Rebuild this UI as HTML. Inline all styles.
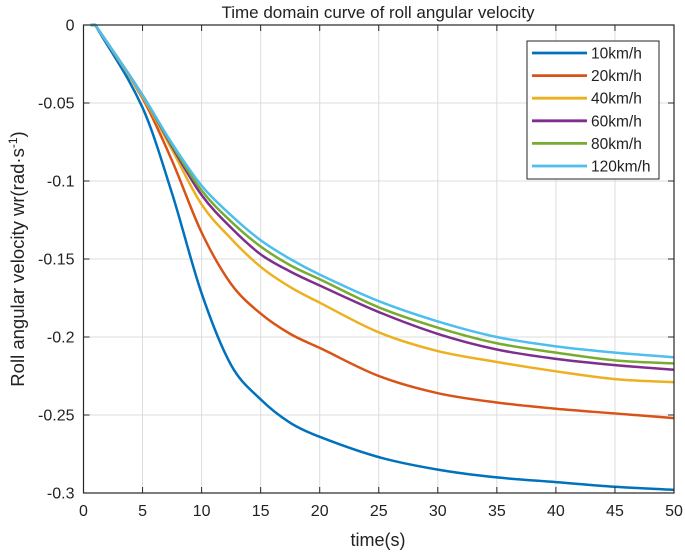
<!DOCTYPE html>
<html><head><meta charset="utf-8"><style>
body{margin:0;background:#fff}
svg text{font-family:"Liberation Sans",sans-serif;fill:#222}
</style></head><body>
<svg id="chart" width="685" height="552" viewBox="0 0 685 552" xmlns="http://www.w3.org/2000/svg">
<g id="grid"></g>
<g id="series"></g>
<g id="axes"></g>
<text x="378" y="18" font-size="17" text-anchor="middle">Time domain curve of roll angular velocity</text>
<text x="378" y="546" font-size="18" text-anchor="middle">time(s)</text>
<text transform="translate(24,259) rotate(-90)" font-size="18.5" text-anchor="middle">Roll angular velocity wr(rad·s<tspan dy="-7" font-size="12">-1</tspan><tspan dy="7">)</tspan></text>
<g id="legend"></g>
</svg>
<script>
const times=[0.6,1,5,7.5,10,12.5,15,17.5,20,25,30,35,40,45,50];
const v10=[0,0,-0.053,-0.108,-0.172,-0.218,-0.240,-0.255,-0.264,-0.277,-0.285,-0.29,-0.293,-0.296,-0.298];
const v20=[0,0,-0.047,-0.087,-0.133,-0.166,-0.185,-0.198,-0.207,-0.225,-0.236,-0.242,-0.246,-0.249,-0.252];
const v40=[0,0,-0.046,-0.080,-0.115,-0.137,-0.155,-0.168,-0.178,-0.197,-0.209,-0.216,-0.222,-0.227,-0.229];
const v60=[0,0,-0.045,-0.078,-0.109,-0.130,-0.147,-0.158,-0.167,-0.184,-0.198,-0.208,-0.214,-0.218,-0.221];
const v80=[0,0,-0.045,-0.077,-0.106,-0.126,-0.142,-0.154,-0.163,-0.181,-0.194,-0.204,-0.210,-0.215,-0.217];
const v120=[0,0,-0.045,-0.076,-0.103,-0.122,-0.138,-0.150,-0.160,-0.177,-0.190,-0.200,-0.206,-0.210,-0.213];
const seriesNames=["10km/h","20km/h","40km/h","60km/h","80km/h","120km/h"];
const xTicks=[0,5,10,15,20,25,30,35,40,45,50];
const yTicks=[0,-0.05,-0.1,-0.15,-0.2,-0.25,-0.3];
const yTickLabels=["0","-0.05","-0.1","-0.15","-0.2","-0.25","-0.3"];
const colors=["#0072BD","#D95319","#EDB120","#7E2F8E","#77AC30","#4DBEEE"];
const X0=83.5,X1=674,Y0=25,Y1=493;
const xs=t=>X0+(t/50)*(X1-X0);
const ys=v=>Y0+(v/-0.3)*(Y1-Y0);
const NS="http://www.w3.org/2000/svg";
function mk(tag,attrs,parent){const e=document.createElementNS(NS,tag);for(const k in attrs)e.setAttribute(k,attrs[k]);parent.appendChild(e);return e;}
const grid=document.getElementById('grid'),axes=document.getElementById('axes'),ser=document.getElementById('series'),leg=document.getElementById('legend');
mk('rect',{x:X0,y:Y0,width:X1-X0,height:Y1-Y0,fill:'#fff'},grid);
xTicks.forEach(t=>{
  const g=mk('line',{x1:xs(t),x2:xs(t),y1:Y0,y2:Y1,stroke:'#dcdcdc','stroke-width':1},grid);
  
  
  mk('line',{x1:xs(t),x2:xs(t),y1:Y1,y2:Y1-6,stroke:'#262626'},axes);
  mk('line',{x1:xs(t),x2:xs(t),y1:Y0,y2:Y0+6,stroke:'#262626'},axes);
  const tx=mk('text',{x:xs(t),y:Y1+23,'font-size':16,'text-anchor':'middle'},axes);
  tx.textContent=t;
  
  
});
yTicks.forEach((v,i)=>{
  const g=mk('line',{x1:X0,x2:X1,y1:ys(v),y2:ys(v),stroke:'#dcdcdc','stroke-width':1},grid);
  
  
  mk('line',{x1:X0,x2:X0+6,y1:ys(v),y2:ys(v),stroke:'#262626'},axes);
  mk('line',{x1:X1,x2:X1-6,y1:ys(v),y2:ys(v),stroke:'#262626'},axes);
  const tx=mk('text',{x:X0-9,y:ys(v)+5.5,'font-size':16,'text-anchor':'end'},axes);
  tx.textContent=yTickLabels[i];
  
  
});
mk('rect',{x:X0,y:Y0,width:X1-X0,height:Y1-Y0,fill:'none',stroke:'#262626','stroke-width':1.2},axes);
function path(vals){
  const p=times.map((t,i)=>[xs(t),ys(vals[i])]);
  const n=p.length;
  // tangents (per unit x), Catmull-Rom style with non-uniform spacing
  const m=[];
  for(let i=0;i<n;i++){
    if(i===0)m.push(0);
    else if(i===n-1)m.push((p[i][1]-p[i-1][1])/(p[i][0]-p[i-1][0]));
    else if(i===1)m.push((p[2][1]-p[1][1])/(p[2][0]-p[1][0]));
    else m.push((p[i+1][1]-p[i-1][1])/(p[i+1][0]-p[i-1][0]));
  }
  let s='M'+p[0][0]+','+p[0][1];
  for(let i=0;i<n-1;i++){
    const h=(p[i+1][0]-p[i][0])/3;
    if(i===0){s+=' L'+p[1][0]+','+p[1][1];continue;}
    s+=' C'+(p[i][0]+h)+','+(p[i][1]+m[i]*h)+' '+(p[i+1][0]-h)+','+(p[i+1][1]-m[i+1]*h)+' '+p[i+1][0]+','+p[i+1][1];
  }
  return s;
}
[v10,v20,v40,v60,v80,v120].forEach((vals,i)=>{
  const p=mk('path',{d:path(vals),fill:'none',stroke:colors[i],'stroke-width':2.5},ser);
  
  
});
mk('rect',{x:527,y:41,width:132,height:138,fill:'#fff',stroke:'#262626','stroke-width':1},leg);
seriesNames.forEach((n,i)=>{
  const y=53+i*22.6;
  const l=mk('line',{x1:532,x2:587,y1:y,y2:y,stroke:colors[i],'stroke-width':2.8},leg);
  
  
  const t=mk('text',{x:591,y:y+5.5,'font-size':15.5},leg);
  t.textContent=n;
  
  
});
</script>
</body></html>
